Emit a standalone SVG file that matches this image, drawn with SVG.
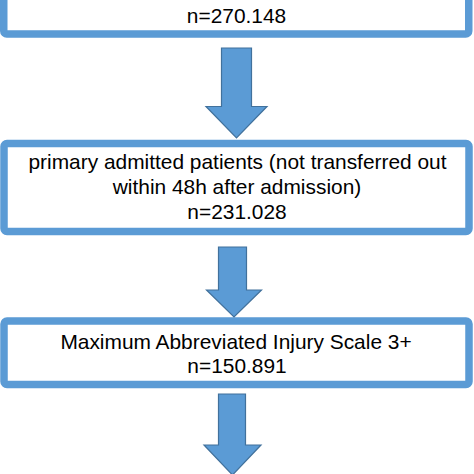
<svg xmlns="http://www.w3.org/2000/svg" width="474" height="474" viewBox="0 0 474 474">
<style>
.box{fill:#ffffff;stroke:#5B9BD5;stroke-width:7.5}
.arr{fill:#5B9BD5;stroke:#41719C;stroke-width:1.2;stroke-linejoin:miter}
text{font-family:"Liberation Sans",Arial,sans-serif;font-size:20.9px;fill:#000000;text-anchor:middle}
</style>
<rect width="474" height="474" fill="#ffffff"/>
<g id="node1">
<rect class="box" x="3.75" y="-60" width="465" height="94" rx="3"/>
<text x="236.5" y="23.3">n=270.148</text>
</g>
<g id="node2">
<rect class="box" x="4" y="143.5" width="465" height="88" rx="3"/>
<text x="237.5" y="169.3">primary admitted patients (not transferred out</text>
<text x="237" y="194.3">within 48h after admission)</text>
<text x="237" y="219.3">n=231.028</text>
</g>
<g id="node3">
<rect class="box" x="4" y="321" width="465" height="63.5" rx="3"/>
<text x="236" y="349.3">Maximum Abbreviated Injury Scale 3+</text>
<text x="237" y="373.3">n=150.891</text>
</g>
<g id="connectors">
<polygon class="arr" points="221.5,48 251.5,48 251.5,106.5 267,106.5 236.5,138 206,106.5 221.5,106.5"/>
<polygon class="arr" points="218.5,247 246.5,247 246.5,290 261.5,290 234,317 206.5,290 218.5,290"/>
<polygon class="arr" points="218.5,394 245.5,394 245.5,445 261,445 232.5,475 204,445 218.5,445"/>
</g>
</svg>
